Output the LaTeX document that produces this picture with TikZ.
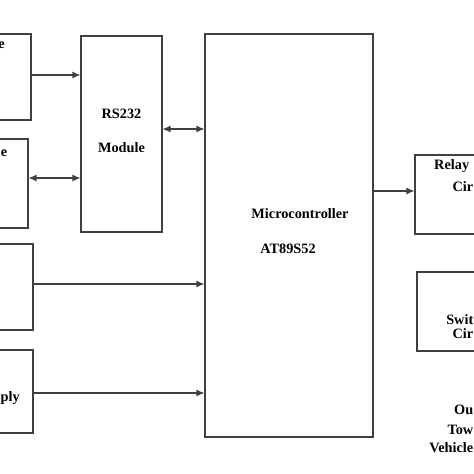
\documentclass[tikz,border=0pt]{standalone}
\usepackage{fontspec}
\setmainfont{Liberation Serif}
\usetikzlibrary{arrows.meta}
\tikzset{
  blk/.style={draw=black!75, line width=1.1pt, minimum width=#1},
  lbl/.style={font=\fontsize{14.3}{17}\selectfont\bfseries, inner sep=0pt},
  wire/.style={draw=black!75, line width=1.1pt},
  tip/.style={-{Latex[length=8pt,width=7pt]}},
  both/.style={{Latex[length=8pt,width=7pt]}-{Latex[length=8pt,width=7pt]}}
}
\begin{document}
\begin{tikzpicture}[x=1pt,y=-1pt]
\useasboundingbox (0,0) rectangle (474,474);
\clip (0,0) rectangle (474,474);
\fill[white] (0,0) rectangle (474,474);

\node[blk=91pt, minimum height=86pt] (gps) at (-14.5,77) {};
\node[blk=88pt, minimum height=89pt] (gsm) at (-16,183.5) {};
\node[blk=93pt, minimum height=86pt] (key) at (-13.5,287) {};
\node[blk=93pt, minimum height=83pt] (pwr) at (-13.5,391.5) {};
\node[blk=81pt, minimum height=196pt] (rs) at (121.5,134) {};
\node[blk=168pt, minimum height=403pt] (mcu) at (289,235.5) {};
\node[blk=115pt, minimum height=79pt] (rly) at (472.5,194.5) {};
\node[blk=113pt, minimum height=79pt] (sw) at (473.5,311.5) {};

\node[lbl, anchor=east] (t1) at (5,45) {e};
\node[lbl, anchor=east] (t2) at (7.5,153) {e};
\node[lbl, anchor=west] (t4) at (0.5,398) {ply};
\node[lbl] (t5) at (121.5,114) {RS232};
\node[lbl] (t6) at (121.5,148) {Module};
\node[lbl] (t7) at (300,214) {Microcontroller};
\node[lbl] (t8) at (288,249) {AT89S52};
\node[lbl, anchor=west] (t9) at (434,166) {Relay};
\node[lbl, anchor=east] (t10) at (473.5,187) {Cir};
\node[lbl, anchor=east] (t11) at (473.5,320) {Swit};
\node[lbl, anchor=east] (t12) at (473.5,334) {Cir};
\node[lbl, anchor=east] (t13) at (473.5,410) {Ou};
\node[lbl, anchor=east] (t14) at (473.5,430) {Tow};
\node[lbl, anchor=east] (t15) at (473.5,448) {Vehicle};

\path[wire,tip] ([yshift=2pt]gps.east) -- ([yshift=2pt]gps.east -| rs.west);
\path[wire,both] ([yshift=5.5pt]gsm.east) -- ([yshift=5.5pt]gsm.east -| rs.west);
\path[wire,both] ([yshift=5pt]rs.east) -- ([yshift=5pt]rs.east -| mcu.west);
\path[wire,tip] ([yshift=3pt]key.east) -- ([yshift=3pt]key.east -| mcu.west);
\path[wire,tip] ([yshift=-1.5pt]pwr.east) -- ([yshift=-1.5pt]pwr.east -| mcu.west);
\path[wire,tip] ([yshift=3.5pt]rly.west -| mcu.east) -- ([yshift=3.5pt]rly.west);
\end{tikzpicture}
\end{document}
